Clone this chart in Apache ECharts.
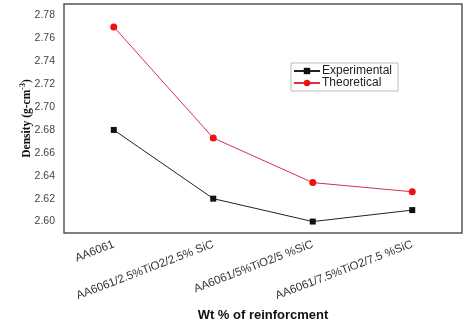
<!DOCTYPE html>
<html>
<head>
<meta charset="utf-8">
<script src="https://cdn.jsdelivr.net/npm/echarts@6/dist/echarts.min.js"></script>
<style>
  html, body { margin: 0; padding: 0; background: #fff; }
  #chart { width: 474px; height: 327px; }
</style>
</head>
<body>
<div id="chart"></div>
<script>
// Density of AA6061 composites versus reinforcement content
const categories = [
  'AA6061',
  'AA6061/2.5%TiO2/2.5% SiC',
  'AA6061/5%TiO2/5 %SiC',
  'AA6061/7.5%TiO2/7.5 %SiC'
];
const experimental = [2.68, 2.62, 2.60, 2.61];
const theoretical = [2.77, 2.673, 2.634, 2.626];
const yTickLabels = ['2.60', '2.62', '2.64', '2.66', '2.68', '2.70', '2.72', '2.74', '2.76', '2.78'];

const chart = echarts.init(document.getElementById('chart'));
chart.setOption({
  animation: false,
  backgroundColor: '#ffffff',
  grid: {
    left: 64, right: 12, top: 4, bottom: 94,
    show: true, borderColor: '#555', borderWidth: 1.5, backgroundColor: 'transparent'
  },
  legend: {
    left: 291, top: 63,
    orient: 'vertical',
    itemGap: 0,
    itemWidth: 26,
    itemHeight: 8,
    padding: [2, 6, 2, 2],
    borderColor: '#bbb',
    borderWidth: 1,
    borderRadius: 0,
    textStyle: { fontFamily: 'Liberation Sans, Arial, sans-serif', fontSize: 12, color: '#222', padding: [0, 0, 0, -3] },
    data: ['Experimental', 'Theoretical']
  },
  xAxis: {
    type: 'category',
    data: categories,
    boundaryGap: true,
    axisLine: { show: false },
    axisTick: { show: false },
    axisLabel: {
      rotate: 21,
      margin: 11,
      interval: 0,
      fontFamily: 'Liberation Sans, Arial, sans-serif',
      fontSize: 11.5,
      color: '#333'
    },
    name: 'Wt % of reinforcment',
    nameLocation: 'middle',
    nameGap: 76,
    nameMoveOverlap: false,
    nameTextStyle: {
      fontFamily: 'Liberation Sans, Arial, sans-serif',
      fontSize: 13,
      fontWeight: 'bold',
      color: '#111'
    }
  },
  yAxis: {
    type: 'value',
    min: 2.59,
    max: 2.79,
    interval: 0.01,
    splitLine: { show: false },
    axisLine: { show: false },
    axisTick: { show: false },
    axisLabel: {
      margin: 9,
      fontFamily: 'Liberation Sans, Arial, sans-serif',
      fontSize: 10.5,
      color: '#444',
      formatter: function (v) {
        const s = v.toFixed(2);
        return yTickLabels.indexOf(s) >= 0 ? s : '';
      }
    },
    name: '{n|Density (g-cm}{s|-3}{n|)}',
    nameLocation: 'middle',
    nameRotate: 90,
    nameGap: 29,
    nameMoveOverlap: false,
    nameTextStyle: {
      rich: {
        n: { fontFamily: 'Liberation Serif, Times New Roman, serif', fontSize: 11.5, color: '#111', fontWeight: 'bold' },
        s: { fontFamily: 'Liberation Serif, Times New Roman, serif', fontSize: 8, color: '#111', fontWeight: 'bold', verticalAlign: 'top', padding: [0, 0, 8, 0] }
      }
    }
  },
  series: [
    {
      name: 'Experimental',
      type: 'line',
      data: experimental,
      symbol: 'rect',
      symbolSize: 6,
      lineStyle: { color: '#222', width: 1 },
      itemStyle: { color: '#111' }
    },
    {
      name: 'Theoretical',
      type: 'line',
      data: theoretical,
      symbol: 'circle',
      symbolSize: 7,
      lineStyle: { color: '#d9304a', width: 1 },
      itemStyle: { color: '#ee1111' }
    }
  ]
});
</script>
</body>
</html>
